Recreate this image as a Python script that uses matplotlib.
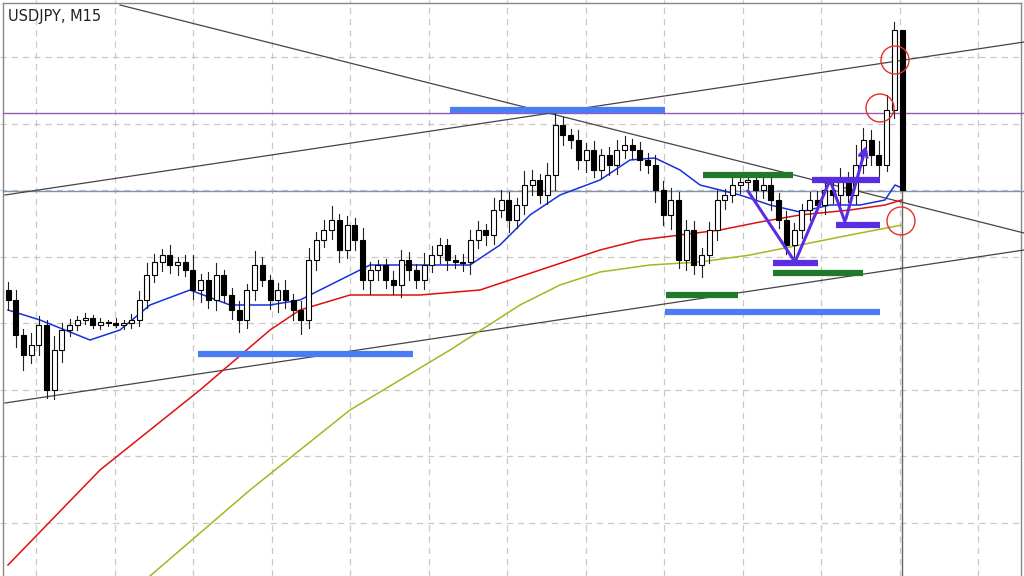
import matplotlib
matplotlib.use("Agg")
import matplotlib.pyplot as plt
import numpy as np
from matplotlib.patches import Rectangle, Circle

# prices expressed in chart pixel units (y grows downward)
closes = [300,335,355,345,325,390,350,330,325,320,318,
          325,322,323,325,323,320,300,275,262,255,
          265,262,270,290,280,300,275,295,310,320,
          290,265,280,300,290,300,310,320,260,240,
          230,220,250,225,240,280,270,265,280,285,
          260,270,280,265,255,245,260,262,262,240,
          230,235,210,200,220,205,185,180,195,175,
          125,135,140,160,150,170,155,165,150,145,
          150,160,165,190,215,200,260,230,265,255,
          230,200,195,185,182,180,190,185,200,220,
          245,230,210,200,205,190,195,180,195,165,
          140,155,165,110,30,190]
first_open = 290
wick_up = [8,10,6,12,9,5,14,7,6,4,5, 3,4,2,5,3,6,9,12,8,6, 10,5,7,15,6,8,12,5,7,9,
           6,14,8,5,7,10,6,9,12,8, 10,14,6,9,7,12,8,5,6,9, 10,8,6,12,9,7,6,5,8,10,
           9,6,12,10,8,7,14,10,6,12, 12,8,6,10,7,9,6,8,10,9, 6,8,7,10,9,12,8,10,9,7,
           8,10,6,9,7,8,6,10,8,7, 9,7,6,8,9,10,7,12,8,20, 12,10,14,15,8,0]
wick_dn = [10,12,15,8,10,8,9,12,6,5,4, 3,4,3,2,4,5,6,8,7,9, 8,10,6,9,12,8,10,7,9,12,
           8,10,6,9,12,8,10,14,8,10, 7,9,12,8,10,9,14,10,8,9, 12,10,8,9,7,8,10,6,9,12,
           8,10,9,7,12,8,9,10,8,9, 15,10,8,9,12,7,8,10,9,8, 9,10,8,12,10,14,8,10,9,12,
           8,10,9,7,8,6,9,8,10,8, 9,12,8,10,7,9,8,10,7,9, 8,10,12,6,8,0]

blue_ma = [(8,310),(40,320),(90,340),(120,330),(150,305),(190,290),(230,305),(270,305),(300,300),
           (350,275),(370,265),(430,265),(470,265),(500,245),(530,215),(560,195),(600,180),(630,160),
           (655,158),(680,170),(700,185),(740,195),(770,205),(800,212),(830,205),(860,205),(885,200),(895,185),(902,188)]
red_ma = [(8,565),(100,470),(200,390),(270,330),(300,310),(350,295),(420,295),(480,290),(540,270),(600,250),
          (640,240),(680,235),(720,230),(760,222),(800,215),(850,210),(885,205),(902,200)]
olive_ma = [(150,576),(250,490),(350,410),(450,350),(520,305),(560,285),(600,272),(650,265),(700,262),
            (750,255),(800,245),(850,235),(902,225)]

trend_lines = [((120,5),(1024,233)),((5,195),(1024,42)),((5,403),(1024,250))]
blue_levels = [(450,665,110),(198,413,354),(665,880,312)]
green_levels = [(703,793,175),(666,738,295),(773,863,273)]
purple_levels = [(812,880,180),(773,818,263),(836,880,225)]
zigzag = [(748,191),(795,262),(830,180),(845,222),(867,143)]
circles = [(895,60),(880,108),(901,221)]

fig = plt.figure(figsize=(10.24,5.76), dpi=100)
ax = fig.add_axes([0,0,1,1])
ax.set_xlim(0,1024); ax.set_ylim(576,0); ax.axis('off')

for x in np.arange(36,1024,78.5):
    ax.axvline(x, color='#c8c8c8', ls=(0,(5,4)), lw=0.9, zorder=0)
for y in np.arange(57,576,66.5):
    ax.axhline(y, color='#c8c8c8', ls=(0,(5,4)), lw=0.9, zorder=0)
ax.plot([1021,1021],[3,576], color='#888', lw=1)
ax.plot([3,1021],[3,3], color='#888', lw=1)
ax.plot([3,3],[3,576], color='#888', lw=1)

ax.axhline(113, color='#9b59b6', lw=1, xmin=0.003)
ax.axhline(191, color='#7f94aa', lw=1, xmin=0.003)
ax.plot([902,902],[190,576], color='#666', lw=1)
for (a,b) in trend_lines:
    ax.plot([a[0],b[0]],[a[1],b[1]], color='#444', lw=0.9)

for pts,c in [(olive_ma,'#aab41e'),(red_ma,'#e01010'),(blue_ma,'#1530e0')]:
    p = np.array(pts); ax.plot(p[:,0],p[:,1], color=c, lw=1.1, zorder=3)

opens = [first_open] + closes[:-1]
n = len(closes)
for i in range(n):
    x = 8 + (902-8)*i/(n-1)
    o, c = opens[i], closes[i]
    top, bot = min(o,c), max(o,c)
    ax.plot([x,x],[top-wick_up[i], bot+wick_dn[i]], color='#222', lw=0.8, zorder=4)
    bull = c < o
    ax.add_patch(Rectangle((x-2.5, top), 5, max(bot-top,1),
                 facecolor='white' if bull else 'black', edgecolor='black', lw=0.8, zorder=5))

for x0,x1,y in blue_levels:
    ax.plot([x0,x1],[y,y], color='#4a7cf5', lw=4.5, solid_capstyle='butt', zorder=6)
for x0,x1,y in green_levels:
    ax.plot([x0,x1],[y,y], color='#1e7a28', lw=4.5, solid_capstyle='butt', zorder=6)
for x0,x1,y in purple_levels:
    ax.plot([x0,x1],[y,y], color='#5a2ee0', lw=4.5, solid_capstyle='butt', zorder=6)
z = np.array(zigzag)
ax.plot(z[:-1,0], z[:-1,1], color='#5a2ee0', lw=2.2, zorder=7)
ax.annotate('', xy=tuple(z[-1]), xytext=tuple(z[-2]),
            arrowprops=dict(arrowstyle='->', color='#5a2ee0', lw=2.2, mutation_scale=14), zorder=7)
for cx,cy in circles:
    ax.add_patch(Circle((cx,cy),14, fill=False, edgecolor='#e03030', lw=1, zorder=8))

ax.text(8,16,'USDJPY, M15', fontsize=10.5, color='#222', va='center', family='DejaVu Sans')
fig.savefig('out.png', dpi=100)
